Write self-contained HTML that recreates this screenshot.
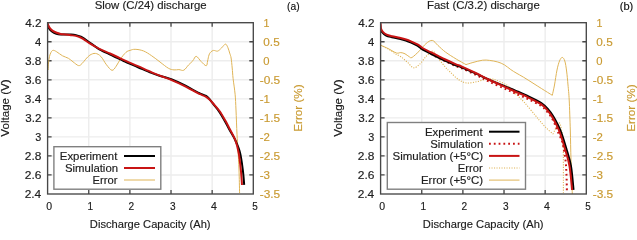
<!DOCTYPE html><html><head><meta charset="utf-8"><style>html,body{margin:0;padding:0;background:#fff;width:637px;height:231px;overflow:hidden}svg{display:block;will-change:transform}text{font-family:"Liberation Sans",sans-serif}</style></head><body>
<svg width="637" height="231" viewBox="0 0 637 231">
<rect width="637" height="231" fill="#fff"/>
<path d="M88.74,22.7V194.0 M129.88,22.7V194.0 M171.02,22.7V194.0 M212.16,22.7V194.0 M47.6,41.73H253.3 M47.6,60.77H253.3 M47.6,79.80H253.3 M47.6,98.83H253.3 M47.6,117.87H253.3 M47.6,136.90H253.3 M47.6,155.93H253.3 M47.6,174.97H253.3" stroke="#ededed" stroke-width="1.4" fill="none"/>
<path d="M88.74,194.0v-4 M88.74,22.7v4 M129.88,194.0v-4 M129.88,22.7v4 M171.02,194.0v-4 M171.02,22.7v4 M212.16,194.0v-4 M212.16,22.7v4 M47.6,41.73h4 M253.3,41.73h-4 M47.6,60.77h4 M253.3,60.77h-4 M47.6,79.80h4 M253.3,79.80h-4 M47.6,98.83h4 M253.3,98.83h-4 M47.6,117.87h4 M253.3,117.87h-4 M47.6,136.90h4 M253.3,136.90h-4 M47.6,155.93h4 M253.3,155.93h-4 M47.6,174.97h4 M253.3,174.97h-4" stroke="#474747" stroke-width="1.3" fill="none"/>
<svg x="47.1" y="22.2" width="206.70000000000002" height="172.3" viewBox="47.1 22.2 206.70000000000002 172.3" overflow="hidden">
<path d="M48.10,70.00 C48.17,68.83 48.27,65.25 48.50,63.00 C48.73,60.75 49.08,58.28 49.50,56.50 C49.92,54.72 50.40,53.33 51.00,52.30 C51.60,51.27 52.15,50.38 53.10,50.30 C54.05,50.22 55.13,50.88 56.70,51.80 C58.27,52.72 60.55,54.72 62.50,55.80 C64.45,56.88 66.65,57.30 68.40,58.30 C70.15,59.30 71.32,60.58 73.00,61.80 C74.68,63.02 77.00,65.30 78.50,65.60 C80.00,65.90 80.80,64.67 82.00,63.60 C83.20,62.53 84.38,60.62 85.70,59.20 C87.02,57.78 88.28,56.07 89.90,55.10 C91.52,54.13 93.57,53.17 95.40,53.40 C97.23,53.63 99.05,54.60 100.90,56.50 C102.75,58.40 104.65,62.50 106.50,64.80 C108.35,67.10 110.38,70.07 112.00,70.30 C113.62,70.53 114.82,68.05 116.20,66.20 C117.58,64.35 118.67,61.52 120.30,59.20 C121.93,56.88 124.38,53.77 126.00,52.30 C127.62,50.83 128.48,50.90 130.00,50.40 C131.52,49.90 132.87,49.22 135.10,49.30 C137.33,49.38 140.63,49.82 143.40,50.90 C146.17,51.98 148.93,53.95 151.70,55.80 C154.47,57.65 157.23,59.93 160.00,62.00 C162.77,64.07 165.97,66.88 168.30,68.20 C170.63,69.52 172.23,69.67 174.00,69.90 C175.77,70.13 177.27,69.55 178.90,69.60 C180.53,69.65 182.18,70.98 183.80,70.20 C185.42,69.42 187.10,66.47 188.60,64.90 C190.10,63.33 191.53,62.23 192.80,60.80 C194.07,59.37 194.82,56.18 196.20,56.30 C197.58,56.42 199.43,59.92 201.10,61.50 C202.77,63.08 205.12,65.88 206.20,65.80 C207.28,65.72 207.13,62.80 207.60,61.00 C208.07,59.20 208.47,56.50 209.00,55.00 C209.53,53.50 210.03,52.77 210.80,52.00 C211.57,51.23 212.45,50.55 213.60,50.40 C214.75,50.25 216.37,51.52 217.70,51.10 C219.03,50.68 220.32,49.07 221.60,47.90 C222.88,46.73 224.37,44.18 225.40,44.10 C226.43,44.02 227.08,45.90 227.80,47.40 C228.52,48.90 229.15,51.33 229.70,53.10 C230.25,54.87 230.68,55.52 231.10,58.00 C231.52,60.48 231.87,64.57 232.20,68.00 C232.53,71.43 232.62,74.23 233.10,78.60 C233.58,82.97 234.62,88.97 235.10,94.20 C235.58,99.43 235.68,103.33 236.00,110.00 C236.32,116.67 236.67,127.53 237.00,134.20 C237.33,140.87 237.67,144.03 238.00,150.00 C238.33,155.97 238.73,162.83 239.00,170.00 C239.27,177.17 239.50,189.17 239.60,193.00" stroke="#dfb457" stroke-width="1" fill="none"/>
<path d="M47.10,22.92 C47.19,23.34 47.36,24.52 47.67,25.43 C47.98,26.34 48.22,27.34 48.98,28.38 C49.73,29.43 50.99,30.82 52.22,31.71 C53.45,32.61 54.97,33.26 56.34,33.73 C57.72,34.21 58.96,34.42 60.47,34.56 C61.98,34.70 63.64,34.58 65.39,34.57 C67.14,34.57 69.22,34.46 70.99,34.55 C72.75,34.64 74.33,34.75 75.98,35.12 C77.64,35.49 79.50,36.14 80.93,36.77 C82.35,37.40 83.08,37.97 84.53,38.93 C85.99,39.89 87.90,41.30 89.65,42.53 C91.41,43.76 93.35,45.14 95.05,46.31 C96.75,47.48 97.40,48.23 99.83,49.56 C102.26,50.89 106.76,52.94 109.64,54.31 C112.52,55.68 114.79,56.68 117.12,57.79 C119.46,58.90 120.24,59.45 123.65,60.98 C127.05,62.51 132.94,64.97 137.57,66.96 C142.20,68.95 147.46,71.39 151.43,72.93 C155.40,74.48 157.98,75.15 161.39,76.24 C164.79,77.33 168.01,77.98 171.86,79.48 C175.71,80.98 180.44,83.18 184.49,85.22 C188.55,87.25 193.56,90.26 196.19,91.66 C198.81,93.06 198.62,92.90 200.27,93.61 C201.92,94.31 204.52,94.95 206.09,95.91 C207.65,96.86 208.45,97.94 209.66,99.32 C210.88,100.71 211.81,102.20 213.36,104.20 C214.92,106.21 217.11,108.56 219.01,111.35 C220.91,114.13 223.04,117.82 224.78,120.90 C226.52,123.97 227.73,126.58 229.47,129.77 C231.20,132.96 233.44,136.21 235.20,140.04 C236.96,143.87 238.76,147.74 240.03,152.75 C241.30,157.77 242.14,164.75 242.83,170.10 C243.53,175.45 243.97,182.38 244.19,184.84" stroke="#000000" stroke-width="2" fill="none"/>
<path d="M47.50,22.80 C47.62,23.20 47.83,24.37 48.20,25.20 C48.57,26.03 48.93,26.85 49.70,27.80 C50.47,28.75 51.63,30.07 52.80,30.90 C53.97,31.73 55.40,32.30 56.70,32.80 C58.00,33.30 59.15,33.62 60.60,33.90 C62.05,34.18 63.68,34.28 65.40,34.50 C67.12,34.72 69.17,34.97 70.90,35.20 C72.63,35.43 74.18,35.52 75.80,35.90 C77.42,36.28 79.22,36.88 80.60,37.50 C81.98,38.12 82.65,38.67 84.10,39.60 C85.55,40.53 87.48,41.97 89.30,43.10 C91.12,44.23 93.22,45.38 95.00,46.40 C96.78,47.42 97.50,48.02 100.00,49.20 C102.50,50.38 107.08,52.20 110.00,53.50 C112.92,54.80 115.17,55.88 117.50,57.00 C119.83,58.12 120.60,58.67 124.00,60.20 C127.40,61.73 133.28,64.18 137.90,66.20 C142.52,68.22 147.78,70.63 151.70,72.30 C155.62,73.97 158.08,74.90 161.40,76.20 C164.72,77.50 167.80,78.50 171.60,80.10 C175.40,81.70 180.15,83.78 184.20,85.80 C188.25,87.82 193.27,90.80 195.90,92.20 C198.53,93.60 198.37,93.47 200.00,94.20 C201.63,94.93 204.12,95.72 205.70,96.60 C207.28,97.48 208.18,98.27 209.50,99.50 C210.82,100.73 211.93,102.08 213.60,104.00 C215.27,105.92 217.55,108.23 219.50,111.00 C221.45,113.77 223.55,117.52 225.30,120.60 C227.05,123.68 228.33,126.27 230.00,129.50 C231.67,132.73 233.85,136.08 235.30,140.00 C236.75,143.92 237.77,147.95 238.70,153.00 C239.63,158.05 240.35,164.97 240.90,170.30 C241.45,175.63 241.82,182.55 242.00,185.00" stroke="#c81414" stroke-width="2" fill="none"/>
</svg>
<rect x="47.6" y="22.7" width="205.70000000000002" height="171.3" fill="none" stroke="#474747" stroke-width="1.35"/>
<text x="25.21" y="26.70" textLength="16.28" lengthAdjust="spacingAndGlyphs" fill="#202020" stroke="#202020" stroke-width="0.15" font-size="10.6">4.2</text>
<text x="34.96" y="45.73" textLength="6.27" lengthAdjust="spacingAndGlyphs" fill="#202020" stroke="#202020" stroke-width="0.15" font-size="10.6">4</text>
<text x="24.98" y="64.77" textLength="16.43" lengthAdjust="spacingAndGlyphs" fill="#202020" stroke="#202020" stroke-width="0.15" font-size="10.6">3.8</text>
<text x="24.92" y="83.80" textLength="16.50" lengthAdjust="spacingAndGlyphs" fill="#202020" stroke="#202020" stroke-width="0.15" font-size="10.6">3.6</text>
<text x="24.85" y="102.83" textLength="16.40" lengthAdjust="spacingAndGlyphs" fill="#202020" stroke="#202020" stroke-width="0.15" font-size="10.6">3.4</text>
<text x="25.33" y="121.87" textLength="16.16" lengthAdjust="spacingAndGlyphs" fill="#202020" stroke="#202020" stroke-width="0.15" font-size="10.6">3.2</text>
<text x="35.35" y="140.90" textLength="6.02" lengthAdjust="spacingAndGlyphs" fill="#202020" stroke="#202020" stroke-width="0.15" font-size="10.6">3</text>
<text x="24.80" y="159.93" textLength="16.62" lengthAdjust="spacingAndGlyphs" fill="#202020" stroke="#202020" stroke-width="0.15" font-size="10.6">2.8</text>
<text x="24.74" y="178.97" textLength="16.69" lengthAdjust="spacingAndGlyphs" fill="#202020" stroke="#202020" stroke-width="0.15" font-size="10.6">2.6</text>
<text x="24.67" y="198.00" textLength="16.58" lengthAdjust="spacingAndGlyphs" fill="#202020" stroke="#202020" stroke-width="0.15" font-size="10.6">2.4</text>
<text x="263.46" y="26.70" textLength="5.99" lengthAdjust="spacingAndGlyphs" fill="#c99a32" stroke="#c99a32" stroke-width="0.15" font-size="10.6">1</text>
<text x="263.35" y="45.73" textLength="16.33" lengthAdjust="spacingAndGlyphs" fill="#c99a32" stroke="#c99a32" stroke-width="0.15" font-size="10.6">0.5</text>
<text x="263.37" y="64.77" textLength="6.27" lengthAdjust="spacingAndGlyphs" fill="#c99a32" stroke="#c99a32" stroke-width="0.15" font-size="10.6">0</text>
<text x="259.70" y="83.80" textLength="20.45" lengthAdjust="spacingAndGlyphs" fill="#c99a32" stroke="#c99a32" stroke-width="0.15" font-size="10.6">-0.5</text>
<text x="259.71" y="102.83" textLength="10.23" lengthAdjust="spacingAndGlyphs" fill="#c99a32" stroke="#c99a32" stroke-width="0.15" font-size="10.6">-1</text>
<text x="259.70" y="121.87" textLength="20.45" lengthAdjust="spacingAndGlyphs" fill="#c99a32" stroke="#c99a32" stroke-width="0.15" font-size="10.6">-1.5</text>
<text x="259.71" y="140.90" textLength="10.16" lengthAdjust="spacingAndGlyphs" fill="#c99a32" stroke="#c99a32" stroke-width="0.15" font-size="10.6">-2</text>
<text x="259.70" y="159.93" textLength="20.45" lengthAdjust="spacingAndGlyphs" fill="#c99a32" stroke="#c99a32" stroke-width="0.15" font-size="10.6">-2.5</text>
<text x="259.71" y="178.97" textLength="10.31" lengthAdjust="spacingAndGlyphs" fill="#c99a32" stroke="#c99a32" stroke-width="0.15" font-size="10.6">-3</text>
<text x="259.70" y="198.00" textLength="20.45" lengthAdjust="spacingAndGlyphs" fill="#c99a32" stroke="#c99a32" stroke-width="0.15" font-size="10.6">-3.5</text>
<text x="46.37" y="209.80" textLength="5.86" lengthAdjust="spacingAndGlyphs" fill="#202020" stroke="#202020" stroke-width="0.15" font-size="10.6">0</text>
<text x="87.59" y="209.80" textLength="5.60" lengthAdjust="spacingAndGlyphs" fill="#202020" stroke="#202020" stroke-width="0.15" font-size="10.6">1</text>
<text x="128.62" y="209.80" textLength="5.65" lengthAdjust="spacingAndGlyphs" fill="#202020" stroke="#202020" stroke-width="0.15" font-size="10.6">2</text>
<text x="169.92" y="209.80" textLength="5.63" lengthAdjust="spacingAndGlyphs" fill="#202020" stroke="#202020" stroke-width="0.15" font-size="10.6">3</text>
<text x="210.93" y="209.80" textLength="5.86" lengthAdjust="spacingAndGlyphs" fill="#202020" stroke="#202020" stroke-width="0.15" font-size="10.6">4</text>
<text x="252.19" y="209.80" textLength="5.53" lengthAdjust="spacingAndGlyphs" fill="#202020" stroke="#202020" stroke-width="0.15" font-size="10.6">5</text>
<text x="94.68" y="8.60" textLength="111.92" lengthAdjust="spacingAndGlyphs" fill="#202020" stroke="#202020" stroke-width="0.15" font-size="10.6">Slow (C/24) discharge</text>
<text x="287.06" y="9.50" textLength="12.58" lengthAdjust="spacingAndGlyphs" fill="#111111" stroke="#111111" stroke-width="0.15" font-size="10.7">(a)</text>
<text x="89.89" y="228.00" textLength="120.70" lengthAdjust="spacingAndGlyphs" fill="#202020" stroke="#202020" stroke-width="0.15" font-size="10.6">Discharge Capacity (Ah)</text>
<text transform="translate(9.40,136.65) rotate(-90)" x="0" y="0" textLength="57.36" lengthAdjust="spacingAndGlyphs" fill="#202020" stroke="#202020" stroke-width="0.15" font-size="10.6">Voltage (V)</text>
<text transform="translate(301.90,131.76) rotate(-90)" x="0" y="0" textLength="47.38" lengthAdjust="spacingAndGlyphs" fill="#c99a32" stroke="#c99a32" stroke-width="0.15" font-size="10.6">Error (%)</text>
<rect x="53.9" y="146.7" width="106.9" height="42.5" fill="#fff" stroke="#808080" stroke-width="1.4"/>
<text x="59.81" y="160.10" textLength="57.57" lengthAdjust="spacingAndGlyphs" fill="#202020" stroke="#202020" stroke-width="0.15" font-size="10.6">Experiment</text>
<path d="M124,156H155" stroke="#000000" stroke-width="2" fill="none"/>
<text x="65.03" y="172.10" textLength="53.01" lengthAdjust="spacingAndGlyphs" fill="#202020" stroke="#202020" stroke-width="0.15" font-size="10.6">Simulation</text>
<path d="M124,168H155" stroke="#c81414" stroke-width="2" fill="none"/>
<text x="92.59" y="184.10" textLength="24.89" lengthAdjust="spacingAndGlyphs" fill="#202020" stroke="#202020" stroke-width="0.15" font-size="10.6">Error</text>
<path d="M124,180H155" stroke="#dfb457" stroke-width="1" fill="none"/>
<path d="M421.74,22.7V194.0 M462.88,22.7V194.0 M504.02,22.7V194.0 M545.16,22.7V194.0 M380.6,41.73H586.3 M380.6,60.77H586.3 M380.6,79.80H586.3 M380.6,98.83H586.3 M380.6,117.87H586.3 M380.6,136.90H586.3 M380.6,155.93H586.3 M380.6,174.97H586.3" stroke="#ededed" stroke-width="1.4" fill="none"/>
<path d="M421.74,194.0v-4 M421.74,22.7v4 M462.88,194.0v-4 M462.88,22.7v4 M504.02,194.0v-4 M504.02,22.7v4 M545.16,194.0v-4 M545.16,22.7v4 M380.6,41.73h4 M586.3,41.73h-4 M380.6,60.77h4 M586.3,60.77h-4 M380.6,79.80h4 M586.3,79.80h-4 M380.6,98.83h4 M586.3,98.83h-4 M380.6,117.87h4 M586.3,117.87h-4 M380.6,136.90h4 M586.3,136.90h-4 M380.6,155.93h4 M586.3,155.93h-4 M380.6,174.97h4 M586.3,174.97h-4" stroke="#474747" stroke-width="1.3" fill="none"/>
<svg x="380.1" y="22.2" width="206.69999999999993" height="172.3" viewBox="380.1 22.2 206.69999999999993 172.3" overflow="hidden">
<path d="M380.60,45.20 C381.50,45.63 384.38,46.97 386.00,47.80 C387.62,48.63 388.80,49.23 390.30,50.20 C391.80,51.17 393.23,52.50 395.00,53.60 C396.77,54.70 398.80,55.33 400.90,56.80 C403.00,58.27 405.48,60.57 407.60,62.40 C409.72,64.23 411.58,67.50 413.60,67.80 C415.62,68.10 417.67,66.05 419.70,64.20 C421.73,62.35 424.03,58.58 425.80,56.70 C427.57,54.82 429.02,53.77 430.30,52.90 C431.58,52.03 431.98,50.37 433.50,51.50 C435.02,52.63 437.40,57.07 439.40,59.70 C441.40,62.33 443.73,65.28 445.50,67.30 C447.27,69.32 447.85,69.77 450.00,71.80 C452.15,73.83 455.65,77.63 458.40,79.50 C461.15,81.37 463.42,82.63 466.50,83.00 C469.58,83.37 473.65,82.35 476.90,81.70 C480.15,81.05 483.23,79.50 486.00,79.10 C488.77,78.70 489.95,78.25 493.50,79.30 C497.05,80.35 503.55,82.95 507.30,85.40 C511.05,87.85 513.12,91.12 516.00,94.00 C518.88,96.88 521.43,99.20 524.60,102.70 C527.77,106.20 532.43,111.95 535.00,115.00 C537.57,118.05 538.08,118.80 540.00,121.00 C541.92,123.20 544.33,126.03 546.50,128.20 C548.67,130.37 551.92,133.03 553.00,134.00 M553.00,134.00 C553.98,132.17 557.48,123.67 558.90,123.00 C560.32,122.33 560.78,126.33 561.50,130.00 C562.22,133.67 562.88,134.50 563.20,145.00 C563.52,155.50 563.37,185.00 563.40,193.00" stroke="#dfb457" stroke-width="1.1" fill="none" stroke-dasharray="1.1,1.4"/>
<path d="M380.60,45.20 C381.90,45.78 385.75,47.40 388.40,48.70 C391.05,50.00 394.43,52.35 396.50,53.00 C398.57,53.65 399.38,52.47 400.80,52.60 C402.22,52.73 403.60,53.12 405.00,53.80 C406.40,54.48 408.02,56.10 409.20,56.70 C410.38,57.30 410.35,58.42 412.10,57.40 C413.85,56.38 417.38,52.90 419.70,50.60 C422.02,48.30 423.90,45.30 426.00,43.60 C428.10,41.90 430.30,40.08 432.30,40.40 C434.30,40.72 435.80,43.55 438.00,45.50 C440.20,47.45 442.45,49.83 445.50,52.10 C448.55,54.37 452.88,57.02 456.30,59.10 C459.72,61.18 464.38,63.68 466.00,64.60 M466.00,64.60 C467.15,64.25 470.13,63.23 472.90,62.50 C475.67,61.77 479.82,60.55 482.60,60.20 C485.38,59.85 487.07,60.10 489.60,60.40 C492.13,60.70 495.35,61.27 497.80,62.00 C500.25,62.73 502.13,63.53 504.30,64.80 C506.47,66.07 508.85,68.25 510.80,69.60 C512.75,70.95 513.85,71.62 516.00,72.90 C518.15,74.18 520.70,75.48 523.70,77.30 C526.70,79.12 531.00,81.90 534.00,83.80 C537.00,85.70 538.65,86.78 541.70,88.70 C544.75,90.62 550.53,94.20 552.30,95.30 M552.30,95.30 C552.67,93.58 553.72,89.22 554.50,85.00 C555.28,80.78 556.17,74.00 557.00,70.00 C557.83,66.00 558.63,63.10 559.50,61.00 C560.37,58.90 561.32,57.40 562.20,57.40 C563.08,57.40 564.07,58.73 564.80,61.00 C565.53,63.27 566.07,67.00 566.60,71.00 C567.13,75.00 567.57,80.17 568.00,85.00 C568.43,89.83 568.82,92.50 569.20,100.00 C569.58,107.50 570.00,120.00 570.30,130.00 C570.60,140.00 570.67,149.33 571.00,160.00 C571.33,170.67 572.08,188.33 572.30,194.00" stroke="#dfb457" stroke-width="1" fill="none"/>
<path d="M430.70,53.90 C431.93,54.53 435.65,56.47 438.10,57.70 C440.55,58.93 442.42,59.90 445.40,61.30 C448.38,62.70 453.25,64.92 456.00,66.10 C458.75,67.28 458.62,66.95 461.90,68.40 C465.18,69.85 471.08,72.57 475.70,74.80 C480.32,77.03 484.33,79.30 489.60,81.80 C494.87,84.30 503.07,87.88 507.30,89.80 C511.53,91.72 511.55,91.75 515.00,93.30 C518.45,94.85 523.67,97.02 528.00,99.10 C532.33,101.18 537.83,103.73 541.00,105.80 C544.17,107.87 545.25,109.55 547.00,111.50 C548.75,113.45 550.17,115.33 551.50,117.50 C552.83,119.67 553.92,122.08 555.00,124.50 C556.08,126.92 556.88,129.38 558.00,132.00 C559.12,134.62 560.77,137.53 561.70,140.20 C562.63,142.87 562.95,144.53 563.60,148.00 C564.25,151.47 565.12,156.50 565.60,161.00 C566.08,165.50 566.28,169.83 566.50,175.00 C566.72,180.17 566.83,189.17 566.90,192.00" stroke="#c81414" stroke-width="2" fill="none" stroke-dasharray="1.8,3.0"/>
<path d="M380.03,22.83 C380.07,23.37 380.19,25.05 380.28,26.04 C380.37,27.03 380.22,27.70 380.55,28.77 C380.89,29.83 381.37,31.33 382.31,32.45 C383.25,33.57 384.58,34.72 386.18,35.51 C387.77,36.29 389.66,36.63 391.86,37.17 C394.06,37.72 397.05,38.23 399.37,38.77 C401.69,39.32 403.84,39.83 405.80,40.45 C407.75,41.08 409.17,41.65 411.11,42.52 C413.04,43.39 415.45,44.48 417.39,45.66 C419.32,46.84 420.61,48.33 422.73,49.62 C424.85,50.90 427.65,52.12 430.12,53.36 C432.58,54.60 435.07,55.85 437.52,57.06 C439.98,58.28 441.84,59.31 444.85,60.67 C447.87,62.02 452.82,64.09 455.61,65.21 C458.40,66.32 458.25,65.98 461.57,67.35 C464.89,68.71 470.84,71.28 475.52,73.38 C480.19,75.48 484.29,77.60 489.64,79.92 C494.98,82.25 503.31,85.55 507.61,87.32 C511.90,89.10 511.93,89.09 515.41,90.59 C518.89,92.09 524.10,94.22 528.47,96.33 C532.84,98.44 538.32,101.03 541.64,103.25 C544.96,105.46 546.49,107.50 548.39,109.61 C550.29,111.73 551.58,113.65 553.03,115.95 C554.49,118.26 555.77,120.68 557.13,123.45 C558.50,126.22 559.69,128.36 561.22,132.56 C562.75,136.76 564.70,143.09 566.31,148.62 C567.93,154.15 569.70,158.89 570.91,165.76 C572.11,172.63 573.11,185.83 573.55,189.84" stroke="#000000" stroke-width="2" fill="none"/>
<path d="M380.40,22.80 C380.45,23.33 380.60,25.03 380.70,26.00 C380.80,26.97 380.63,27.62 381.00,28.60 C381.37,29.58 381.97,30.90 382.90,31.90 C383.83,32.90 385.07,33.88 386.60,34.60 C388.13,35.32 389.93,35.67 392.10,36.20 C394.27,36.73 397.27,37.25 399.60,37.80 C401.93,38.35 404.12,38.87 406.10,39.50 C408.08,40.13 409.52,40.75 411.50,41.60 C413.48,42.45 416.02,43.45 418.00,44.60 C419.98,45.75 421.28,47.23 423.40,48.50 C425.52,49.77 428.25,50.97 430.70,52.20 C433.15,53.43 435.65,54.68 438.10,55.90 C440.55,57.12 442.42,58.10 445.40,59.50 C448.38,60.90 453.25,63.12 456.00,64.30 C458.75,65.48 458.62,65.15 461.90,66.60 C465.18,68.05 471.08,70.77 475.70,73.00 C480.32,75.23 484.33,77.50 489.60,80.00 C494.87,82.50 503.07,86.08 507.30,88.00 C511.53,89.92 511.55,89.95 515.00,91.50 C518.45,93.05 523.67,95.18 528.00,97.30 C532.33,99.42 537.75,102.02 541.00,104.20 C544.25,106.38 545.67,108.33 547.50,110.40 C549.33,112.47 550.58,114.33 552.00,116.60 C553.42,118.87 554.67,121.27 556.00,124.00 C557.33,126.73 558.50,128.83 560.00,133.00 C561.50,137.17 563.42,143.50 565.00,149.00 C566.58,154.50 568.32,159.17 569.50,166.00 C570.68,172.83 571.67,186.00 572.10,190.00" stroke="#c81414" stroke-width="2" fill="none"/>
</svg>
<rect x="380.6" y="22.7" width="205.69999999999993" height="171.3" fill="none" stroke="#474747" stroke-width="1.35"/>
<text x="358.21" y="26.70" textLength="16.28" lengthAdjust="spacingAndGlyphs" fill="#202020" stroke="#202020" stroke-width="0.15" font-size="10.6">4.2</text>
<text x="367.96" y="45.73" textLength="6.27" lengthAdjust="spacingAndGlyphs" fill="#202020" stroke="#202020" stroke-width="0.15" font-size="10.6">4</text>
<text x="357.98" y="64.77" textLength="16.43" lengthAdjust="spacingAndGlyphs" fill="#202020" stroke="#202020" stroke-width="0.15" font-size="10.6">3.8</text>
<text x="357.92" y="83.80" textLength="16.50" lengthAdjust="spacingAndGlyphs" fill="#202020" stroke="#202020" stroke-width="0.15" font-size="10.6">3.6</text>
<text x="357.85" y="102.83" textLength="16.40" lengthAdjust="spacingAndGlyphs" fill="#202020" stroke="#202020" stroke-width="0.15" font-size="10.6">3.4</text>
<text x="358.33" y="121.87" textLength="16.16" lengthAdjust="spacingAndGlyphs" fill="#202020" stroke="#202020" stroke-width="0.15" font-size="10.6">3.2</text>
<text x="368.35" y="140.90" textLength="6.02" lengthAdjust="spacingAndGlyphs" fill="#202020" stroke="#202020" stroke-width="0.15" font-size="10.6">3</text>
<text x="357.80" y="159.93" textLength="16.62" lengthAdjust="spacingAndGlyphs" fill="#202020" stroke="#202020" stroke-width="0.15" font-size="10.6">2.8</text>
<text x="357.74" y="178.97" textLength="16.69" lengthAdjust="spacingAndGlyphs" fill="#202020" stroke="#202020" stroke-width="0.15" font-size="10.6">2.6</text>
<text x="357.67" y="198.00" textLength="16.58" lengthAdjust="spacingAndGlyphs" fill="#202020" stroke="#202020" stroke-width="0.15" font-size="10.6">2.4</text>
<text x="596.46" y="26.70" textLength="5.99" lengthAdjust="spacingAndGlyphs" fill="#c99a32" stroke="#c99a32" stroke-width="0.15" font-size="10.6">1</text>
<text x="596.35" y="45.73" textLength="16.33" lengthAdjust="spacingAndGlyphs" fill="#c99a32" stroke="#c99a32" stroke-width="0.15" font-size="10.6">0.5</text>
<text x="596.37" y="64.77" textLength="6.27" lengthAdjust="spacingAndGlyphs" fill="#c99a32" stroke="#c99a32" stroke-width="0.15" font-size="10.6">0</text>
<text x="592.70" y="83.80" textLength="20.45" lengthAdjust="spacingAndGlyphs" fill="#c99a32" stroke="#c99a32" stroke-width="0.15" font-size="10.6">-0.5</text>
<text x="592.71" y="102.83" textLength="10.23" lengthAdjust="spacingAndGlyphs" fill="#c99a32" stroke="#c99a32" stroke-width="0.15" font-size="10.6">-1</text>
<text x="592.70" y="121.87" textLength="20.45" lengthAdjust="spacingAndGlyphs" fill="#c99a32" stroke="#c99a32" stroke-width="0.15" font-size="10.6">-1.5</text>
<text x="592.71" y="140.90" textLength="10.16" lengthAdjust="spacingAndGlyphs" fill="#c99a32" stroke="#c99a32" stroke-width="0.15" font-size="10.6">-2</text>
<text x="592.70" y="159.93" textLength="20.45" lengthAdjust="spacingAndGlyphs" fill="#c99a32" stroke="#c99a32" stroke-width="0.15" font-size="10.6">-2.5</text>
<text x="592.71" y="178.97" textLength="10.31" lengthAdjust="spacingAndGlyphs" fill="#c99a32" stroke="#c99a32" stroke-width="0.15" font-size="10.6">-3</text>
<text x="592.70" y="198.00" textLength="20.45" lengthAdjust="spacingAndGlyphs" fill="#c99a32" stroke="#c99a32" stroke-width="0.15" font-size="10.6">-3.5</text>
<text x="379.37" y="209.80" textLength="5.86" lengthAdjust="spacingAndGlyphs" fill="#202020" stroke="#202020" stroke-width="0.15" font-size="10.6">0</text>
<text x="420.59" y="209.80" textLength="5.60" lengthAdjust="spacingAndGlyphs" fill="#202020" stroke="#202020" stroke-width="0.15" font-size="10.6">1</text>
<text x="461.62" y="209.80" textLength="5.65" lengthAdjust="spacingAndGlyphs" fill="#202020" stroke="#202020" stroke-width="0.15" font-size="10.6">2</text>
<text x="502.92" y="209.80" textLength="5.63" lengthAdjust="spacingAndGlyphs" fill="#202020" stroke="#202020" stroke-width="0.15" font-size="10.6">3</text>
<text x="543.93" y="209.80" textLength="5.86" lengthAdjust="spacingAndGlyphs" fill="#202020" stroke="#202020" stroke-width="0.15" font-size="10.6">4</text>
<text x="585.19" y="209.80" textLength="5.53" lengthAdjust="spacingAndGlyphs" fill="#202020" stroke="#202020" stroke-width="0.15" font-size="10.6">5</text>
<text x="427.07" y="8.60" textLength="112.74" lengthAdjust="spacingAndGlyphs" fill="#202020" stroke="#202020" stroke-width="0.15" font-size="10.6">Fast (C/3.2) discharge</text>
<text x="619.72" y="9.50" textLength="13.47" lengthAdjust="spacingAndGlyphs" fill="#111111" stroke="#111111" stroke-width="0.15" font-size="10.7">(b)</text>
<text x="422.89" y="228.00" textLength="120.70" lengthAdjust="spacingAndGlyphs" fill="#202020" stroke="#202020" stroke-width="0.15" font-size="10.6">Discharge Capacity (Ah)</text>
<text transform="translate(342.40,136.65) rotate(-90)" x="0" y="0" textLength="57.36" lengthAdjust="spacingAndGlyphs" fill="#202020" stroke="#202020" stroke-width="0.15" font-size="10.6">Voltage (V)</text>
<text transform="translate(634.90,131.76) rotate(-90)" x="0" y="0" textLength="47.38" lengthAdjust="spacingAndGlyphs" fill="#c99a32" stroke="#c99a32" stroke-width="0.15" font-size="10.6">Error (%)</text>
<rect x="387.3" y="122.5" width="138.2" height="66.69999999999999" fill="#fff" stroke="#808080" stroke-width="1.4"/>
<text x="425.01" y="135.80" textLength="57.57" lengthAdjust="spacingAndGlyphs" fill="#202020" stroke="#202020" stroke-width="0.15" font-size="10.6">Experiment</text>
<path d="M489,131.7H519.5" stroke="#000000" stroke-width="2" fill="none"/>
<text x="430.23" y="147.90" textLength="53.01" lengthAdjust="spacingAndGlyphs" fill="#202020" stroke="#202020" stroke-width="0.15" font-size="10.6">Simulation</text>
<path d="M489,143.8H519.5" stroke="#c81414" stroke-width="2" fill="none" stroke-dasharray="1.8,3.0"/>
<text x="392.52" y="160.00" textLength="90.69" lengthAdjust="spacingAndGlyphs" fill="#202020" stroke="#202020" stroke-width="0.15" font-size="10.6">Simulation (+5°C)</text>
<path d="M489,155.9H519.5" stroke="#c81414" stroke-width="2" fill="none"/>
<text x="457.79" y="172.10" textLength="24.89" lengthAdjust="spacingAndGlyphs" fill="#202020" stroke="#202020" stroke-width="0.15" font-size="10.6">Error</text>
<path d="M489,168H519.5" stroke="#dfb457" stroke-width="1.1" fill="none" stroke-dasharray="1.1,1.4"/>
<text x="420.92" y="184.20" textLength="62.29" lengthAdjust="spacingAndGlyphs" fill="#202020" stroke="#202020" stroke-width="0.15" font-size="10.6">Error (+5°C)</text>
<path d="M489,180.1H519.5" stroke="#dfb457" stroke-width="1" fill="none"/>
</svg></body></html>
